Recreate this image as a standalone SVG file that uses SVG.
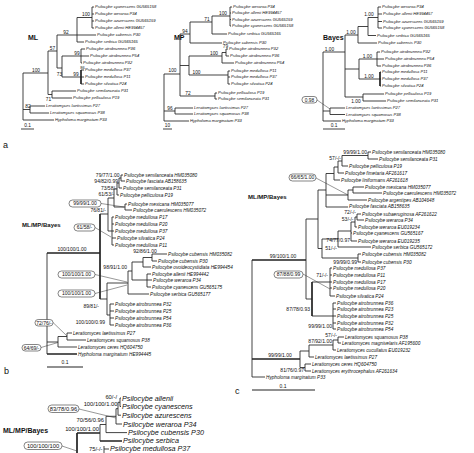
<svg xmlns="http://www.w3.org/2000/svg" width="474" height="453" viewBox="0 0 474 453">
<style>
text{font-family:"Liberation Sans",Arial,sans-serif;fill:#111}
.na{font-size:4.1px;font-style:italic}
.nb{font-size:4.7px;font-style:italic}
.nd{font-size:7.2px;font-style:italic}
.s{font-size:4.8px}
.sb{font-size:5px}
.sd{font-size:5.8px}
.m{text-anchor:middle}
.e{text-anchor:end}
.t{font-weight:bold;font-size:7px}
.tb{font-weight:bold;font-size:6px}
.p{font-size:9px}
.br{fill:none;stroke:#222;stroke-width:0.85}
.bk{fill:none;stroke:#222;stroke-width:1.7}
.bx{fill:#fff;stroke:#333;stroke-width:0.6}
.pt{fill:none;stroke:#333;stroke-width:0.5}
</style>
<rect width="474" height="453" fill="#fff"/>

<g id="connectors">
<!-- ML -->
<path class="br" d="M23,73V120 M23,73H48 M48,51V94.5 M48,51H57 M57,35V68 M57,35H77 M77,17.5V42 M77,17.5H92 M92,7V28 M92,7H94 M92,14H94 M92,21H94 M92,28H94 M77,35H96 M77,42H84 M57,68H62 M62,56V77 M62,56H81 M81,49V63 M81,49H85 M81,56H89 M81,63H82 M62,77H81 M81,70H84 M81,77H84 M81,84H84 M48,94.5H52 M52,91V98 M52,91H76 M52,98H72 M23,109.5H30 M30,106V113 M30,106H45 M30,113H49 M23,120H54 M21,129H34"/>
<path class="bk" d="M81,70V84"/>
<!-- MP -->
<path class="br" d="M164,74V121 M164,74H180 M180,34V96 M180,34H190 M190,22V43 M190,22H212 M212,16V34 M212,16H230 M230,7V26 M230,7H232 M230,13H231 M230,19.5H231 M230,26H231 M212,34H227 M190,43H222 M180,65.5H189 M189,56V75 M189,56H222 M222,52.5V63 M222,52.5H226 M226,49V56 M226,49H228 M226,56H229 M222,63H234 M189,75H228 M228,71V84 M228,71H230 M228,77H230 M228,84H230 M180,96H215 M215,93V99 M215,93H217 M215,99H217 M164,111H175 M175,108V114 M175,108H193 M175,114H193 M164,121H189 M163,129H172"/>
<!-- Bayes -->
<path class="br" d="M323,52V121 M323,52H345 M345,35V97 M345,35H358 M358,26.5V43 M358,26.5H368 M368,17.5V35.5 M368,17.5H378 M378,7V28 M378,7H381 M378,14H382 M378,21.5H382 M378,28H382 M368,35.5H376 M358,43H377 M345,69H359 M359,59V79 M359,59H377 M377,52V66 M377,52H380 M377,59H384 M377,66H381 M359,79H380 M380,72H381 M380,79H381 M380,86H381 M345,97H363 M363,94V101 M363,94H384 M363,101H386 M323,111H330 M330,108V114.5 M330,108H345 M330,114.5H345 M323,121H341 M323,129H345"/>
<path class="bk" d="M380,72V86"/>
<path class="pt" d="M317,100L330,109"/>
<!-- panel b -->
<path class="br" d="M47,253V354 M100,214H108 M108,198V231 M108,198H114 M114,189V207 M114,189H117 M117,183V195 M117,183H119 M119,178V188 M119,178H121 M121,175V181 M121,175H123 M121,181H125 M119,188H122 M117,195H119 M114,207H125 M125,204V210 M125,204H127 M125,210H132 M108,231H112 M112,217V245 M112,217H114 M112,224H114 M112,231H114 M112,238H116 M112,245H114 M100,299H107 M107,283V315 M107,283H128 M128,271V294 M128,271H132 M132,262V280 M132,262H143 M143,257.5V267 M143,257.5H152 M152,254V261 M152,254H167 M152,261H157 M143,267H151 M132,280H147 M147,274V287 M147,274H151 M147,280H152 M147,287H151 M128,294H149 M107,315H110 M110,304V325 M110,304H114 M110,311H114 M110,318H114 M110,325H114 M47,342H58 M58,336.5V347 M58,336.5H67 M67,333V340 M67,333H72 M67,340H86 M58,347H77"/>
<path class="bk" d="M47,253H100 M100,214V299 M47,354H77"/>
<path class="br" style="stroke-width:1.1" d="M47,367H83"/>
<path class="pt" d="M101,203.5L124,207 M95,227.5L111,237 M95,274.5L127,282 M95,293.5L127,285 M53,322.5L67,336 M41,347.5L58,342.5"/>
<!-- panel c -->
<path class="br" d="M252,260V377 M306,219V299 M306,219H318 M318,190V248.5 M318,190H326 M326,173.5V207 M326,173.5H334 M334,167V180 M334,167H338 M338,161V173 M338,161H342 M342,155.5V166 M342,155.5H368 M368,152V159 M368,152H371 M368,159H378 M342,166H348 M338,173H344 M334,180H340 M326,195H348 M348,190V200 M348,190H353 M353,187V193 M353,187H364 M353,193H382 M348,200H367 M326,207H348 M318,248.5H322 M322,239V258 M322,239H338 M338,231V247 M338,231H351 M351,222V241 M351,222H355 M355,217V227 M355,217H357 M357,214V220 M357,214H361 M357,220H364 M355,227H357 M351,233H352 M351,241H357 M338,247H371 M322,258H358 M358,254V262 M358,254H361 M358,262H361 M306,299H312 M312,282H330 M330,268V296 M330,268H332 M330,275H332 M330,282H332 M330,288H332 M330,296H335 M312,316H333 M333,303V329 M333,303H336 M333,309H336 M333,316H336 M333,323H336 M333,329H336 M300,351V367.5 M300,351H309 M309,345V357 M309,345H333 M333,340V350 M333,340H338 M338,337V343 M338,337H344 M338,343H341 M333,350H336 M309,357H314 M300,367.5H305 M305,364V371 M305,364H311 M305,371H311 M252,377H265"/>
<path class="bk" d="M252,260H306 M312,282V316 M252,359H300"/>
<path class="br" style="stroke-width:1.1" d="M252,390H315"/>
<path class="pt" d="M316,178L348,195 M303,274L330,289"/>
<!-- panel d -->
<path class="br" d="M120,398V406.5 M120,398H121 M120,406.5H121 M118,402.3V415.2 M118,402.3H120 M118,415.2H121 M116,408.7V424 M116,408.7H118 M116,424H122 M106,416.3V432.6 M106,416.3H116 M106,432.6H127 M100,424.5V441 M100,424.5H106 M104,446V456 M104,449H109"/>
<path class="bk" d="M100,441H122 M77,433H100 M77,433V456 M77,456H104"/>
<path class="pt" d="M79,409L116,418 M62,446L77,451"/>
</g>

<g id="panel-labels">
<text class="p" x="3" y="148">a</text>
<text class="p" x="4" y="374">b</text>
<text class="p" x="235" y="394">c</text>
<text class="t" x="28" y="40">ML</text>
<text class="t" x="174" y="40">MP</text>
<text class="t" x="323" y="40">Bayes</text>
<text class="tb" x="22" y="227">ML/MP/Bayes</text>
<text class="tb" x="248" y="199">ML/MP/Bayes</text>
<text class="t" x="3" y="433">ML/MP/Bayes</text>
</g>

<g id="support-values">
<text class="s m" x="36" y="71.5">100</text>
<text class="s m" x="52.5" y="49.5">57</text>
<text class="s m" x="66" y="33.5">92</text>
<text class="s m" x="86" y="16">100</text>
<text class="s m" x="77" y="54.5">99</text>
<text class="s m" x="59.5" y="75.5">73</text>
<text class="s m" x="76" y="75.5">99</text>
<text class="m" style="font-size:4px" x="82.5" y="69.2">86</text>
<text class="s m" x="48.5" y="101">71</text>
<text class="s m" x="28" y="107.5">82</text>
<text class="s m" x="27.5" y="127">0.1</text>
<text class="s m" x="172.5" y="72">100</text>
<text class="s m" x="185" y="32.5">94</text>
<text class="s m" x="207" y="20.5">71</text>
<text class="s m" x="223" y="14.5">100</text>
<text class="s m" x="214" y="54.5">100</text>
<text class="s m" x="225.5" y="48">79</text>
<text class="s m" x="196.5" y="73.5">100</text>
<text class="s m" x="188" y="94.5">72</text>
<text class="s m" x="170" y="109.5">96</text>
<text class="s m" x="167.5" y="127">10</text>
<text class="s m" x="329.5" y="50.5">1.00</text>
<text class="s m" x="351" y="33.5">1.00</text>
<text class="s m" x="369" y="16">1.00</text>
<text class="s m" x="367.5" y="57.5">1.00</text>
<text class="s m" x="369" y="77.5">1.00</text>
<text class="s m" x="356" y="102.5">1.00</text>
<text class="s m" x="334" y="127">0.1</text>
<text class="sb e" x="119.5" y="176.5">79/77/1.00</text>
<text class="sb e" x="118" y="182.5">94/82/0.99</text>
<text class="sb e" x="116.5" y="189.5">73/58/-</text>
<text class="sb e" x="114" y="196">61/53/-</text>
<text class="sb e" x="106" y="212">76/81/-</text>
<text class="sb m" x="72" y="250.5">100/100/1.00</text>
<text class="sb m" x="145" y="253">92/86/1.00</text>
<text class="sb e" x="127" y="269">98/91/1.00</text>
<text class="sb e" x="99" y="308">89/81/-</text>
<text class="sb e" x="105" y="324">100/100/0.99</text>
<text class="sb m" x="65" y="364">0.1</text>
<text class="sb e" x="367" y="153.5">99/99/1.00</text>
<text class="sb e" x="341" y="160">57/-/-</text>
<text class="sb e" x="356" y="214.3">72/-/-</text>
<text class="sb e" x="353.5" y="220.8">53/-/-</text>
<text class="sb e" x="350" y="241.5">74/77/0.97</text>
<text class="sb e" x="337" y="249.5">51/-/-</text>
<text class="sb e" x="357" y="264">99/99/0.99</text>
<text class="sb m" x="283" y="257.5">99/100/1.00</text>
<text class="sb e" x="328" y="277">71/-/-</text>
<text class="sb e" x="310" y="310.5">87/78/0.93</text>
<text class="sb e" x="332" y="327.5">99/99/1.00</text>
<text class="sb e" x="337" y="336.5">57/-/-</text>
<text class="sb e" x="332" y="342.5">87/92/1.00</text>
<text class="sb m" x="280" y="356.5">99/99/1.00</text>
<text class="sb e" x="304" y="372">81/76/0.97</text>
<text class="sb m" x="283" y="387.5">0.1</text>
<text class="sd e" x="117" y="398.5">60/-/</text>
<text class="sd e" x="117.5" y="406.3">100/100/1.00</text>
<text class="sd e" x="104" y="421.5">70/56/0.96</text>
<text class="sd e" x="99" y="431.2">100/100/1.00</text>
<text class="sd e" x="102.5" y="451">75/-/-</text>
</g>

<g id="boxed-values">
<g id="box-a-098"><rect class="bx" x="302" y="96.5" width="15" height="6.5" rx="3"/><text class="s m" x="309.5" y="101.6">0.98</text></g>
<g id="box-b-1"><rect class="bx" x="69" y="200" width="32" height="7" rx="3.5"/><text class="sb m" x="85" y="205.3">99/99/1.00</text></g>
<g id="box-b-2"><rect class="bx" x="74" y="224" width="21" height="7" rx="3.5"/><text class="sb m" x="84.5" y="229.3">61/58/-</text></g>
<g id="box-b-3"><rect class="bx" x="58" y="271" width="37" height="7" rx="3.5"/><text class="sb m" x="76.5" y="276.3">100/100/1.00</text></g>
<g id="box-b-4"><rect class="bx" x="58" y="290" width="37" height="7" rx="3.5"/><text class="sb m" x="76.5" y="295.3">100/100/1.00</text></g>
<g id="box-b-5"><rect class="bx" x="35" y="319.5" width="18" height="6.5" rx="3.2"/><text class="sb m" x="44" y="324.5">72/76/-</text></g>
<g id="box-b-6"><rect class="bx" x="22" y="344.5" width="19" height="6.5" rx="3.2"/><text class="sb m" x="31.5" y="349.5">64/69/-</text></g>
<g id="box-c-1"><rect class="bx" x="289" y="174" width="27" height="7" rx="3.5"/><text class="sb m" x="302.5" y="179.3">66/65/1.00</text></g>
<g id="box-c-2"><rect class="bx" x="274" y="271" width="29" height="7" rx="3.5"/><text class="sb m" x="288.5" y="276.3">87/88/0.99</text></g>
<g id="box-d-1"><rect class="bx" x="48" y="405" width="31" height="7.5" rx="3.7"/><text class="sd m" x="63.5" y="410.8">83/78/0.96</text></g>
<g id="box-d-2"><rect class="bx" x="24" y="442" width="38" height="7.5" rx="3.7"/><text class="sd m" x="43" y="447.8">100/100/100</text></g>
</g>

<g id="ml-leaves" class="na">
<g id="ml1"><text x="95" y="8.4">Psilocybe cyanescens GU565158</text></g>
<g id="ml2"><text x="95" y="15.4">Psilocybe weraroa P34</text></g>
<g id="ml3"><text x="95" y="22.4">Psilocybe azurescens GU565159</text></g>
<g id="ml4"><text x="95" y="29.4">Psilocybe allenii HE994457</text></g>
<g id="ml5"><text x="97" y="36.4">Psilocybe cubensis P30</text></g>
<g id="ml6"><text x="85" y="43.4">Psilocybe serbica GU565165</text></g>
<g id="ml7"><text x="86" y="50.4">Psilocybe atrobrunnea P36</text></g>
<g id="ml8"><text x="90" y="57.4">Psilocybe atrobrunnea P54</text></g>
<g id="ml9"><text x="83" y="64.4">Psilocybe atrobrunnea P32</text></g>
<g id="ml10"><text x="85" y="71.4">Psilocybe medullosa P37</text></g>
<g id="ml11"><text x="85" y="78.4">Psilocybe medullosa P11</text></g>
<g id="ml12"><text x="85" y="85.4">Psilocybe silvatica P24</text></g>
<g id="ml13"><text x="77" y="92.4">Psilocybe semilanceata P31</text></g>
<g id="ml14"><text x="73" y="99.4">Psilocybe pelliculosa P19</text></g>
<g id="ml15"><text x="46" y="107.4">Leratiomyces laetissimus P27</text></g>
<g id="ml16"><text x="50" y="114.4">Leratiomyces squamosus P38</text></g>
<g id="ml17"><text x="55" y="121.4">Hypholoma marginatum P33</text></g>
</g>

<g id="mp-leaves" class="na">
<g id="mp1"><text x="233" y="8.4">Psilocybe weraroa P34</text></g>
<g id="mp2"><text x="232" y="14.4">Psilocybe allenii HE994457</text></g>
<g id="mp3"><text x="232" y="20.9">Psilocybe azurescens GU565159</text></g>
<g id="mp4"><text x="232" y="27.4">Psilocybe cyanescens GU565158</text></g>
<g id="mp5"><text x="228" y="35.4">Psilocybe serbica GU565165</text></g>
<g id="mp6"><text x="223" y="44.4">Psilocybe cubensis P30</text></g>
<g id="mp7"><text x="229" y="50.4">Psilocybe atrobrunnea P32</text></g>
<g id="mp8"><text x="230" y="57.4">Psilocybe atrobrunnea P36</text></g>
<g id="mp9"><text x="235" y="64.4">Psilocybe atrobrunnea P54</text></g>
<g id="mp10"><text x="231" y="72.4">Psilocybe medullosa P11</text></g>
<g id="mp11"><text x="231" y="78.4">Psilocybe medullosa P37</text></g>
<g id="mp12"><text x="231" y="85.4">Psilocybe silvatica P24</text></g>
<g id="mp13"><text x="218" y="94.4">Psilocybe pelliculosa P19</text></g>
<g id="mp14"><text x="218" y="100.4">Psilocybe semilanceata P31</text></g>
<g id="mp15"><text x="194" y="109.4">Leratiomyces laetissimus P27</text></g>
<g id="mp16"><text x="194" y="115.4">Leratiomyces squamosus P38</text></g>
<g id="mp17"><text x="190" y="122.4">Hypholoma marginatum P33</text></g>
</g>

<g id="bayes-leaves" class="na">
<g id="by1"><text x="382" y="8.4">Psilocybe weraroa P34</text></g>
<g id="by2"><text x="383" y="15.4">Psilocybe allenii HE994457</text></g>
<g id="by3"><text x="383" y="22.9">Psilocybe azurescens GU565159</text></g>
<g id="by4"><text x="383" y="29.4">Psilocybe cyanescens GU565158</text></g>
<g id="by5"><text x="377" y="36.9">Psilocybe serbica GU565165</text></g>
<g id="by6"><text x="378" y="44.4">Psilocybe cubensis P30</text></g>
<g id="by7"><text x="381" y="53.4">Psilocybe atrobrunnea P32</text></g>
<g id="by8"><text x="385" y="60.4">Psilocybe atrobrunnea P54</text></g>
<g id="by9"><text x="382" y="67.4">Psilocybe atrobrunnea P36</text></g>
<g id="by10"><text x="382" y="73.4">Psilocybe medullosa P11</text></g>
<g id="by11"><text x="382" y="80.4">Psilocybe medullosa P37</text></g>
<g id="by12"><text x="382" y="87.4">Psilocybe silvatica P24</text></g>
<g id="by13"><text x="385" y="95.4">Psilocybe pelliculosa P19</text></g>
<g id="by14"><text x="387" y="102.4">Psilocybe semilanceata P31</text></g>
<g id="by15"><text x="346" y="109.4">Leratiomyces laetissimus P27</text></g>
<g id="by16"><text x="346" y="115.9">Leratiomyces squamosus P38</text></g>
<g id="by17"><text x="342" y="122.4">Hypholoma marginatum P33</text></g>
</g>

<g id="b-leaves" class="nb">
<g id="b1"><text x="124" y="176.6">Psilocybe semilanceata HM035080</text></g>
<g id="b2"><text x="126" y="182.6">Psilocybe fasciata AB158635</text></g>
<g id="b3"><text x="123" y="189.6">Psilocybe semilanceata P31</text></g>
<g id="b4"><text x="120" y="196.6">Psilocybe pelliculosa P19</text></g>
<g id="b5"><text x="128" y="205.6">Psilocybe mexicana HM035077</text></g>
<g id="b6"><text x="133" y="211.6">Psilocybe caerulescens HM035072</text></g>
<g id="b7"><text x="115" y="218.6">Psilocybe medullosa P17</text></g>
<g id="b8"><text x="115" y="225.6">Psilocybe medullosa P20</text></g>
<g id="b9"><text x="115" y="232.6">Psilocybe medullosa P37</text></g>
<g id="b10"><text x="117" y="239.6">Psilocybe silvatica P24</text></g>
<g id="b11"><text x="115" y="246.6">Psilocybe medullosa P11</text></g>
<g id="b12"><text x="168" y="255.6">Psilocybe cubensis HM035082</text></g>
<g id="b13"><text x="158" y="262.6">Psilocybe cubensis P30</text></g>
<g id="b14"><text x="152" y="268.6">Psilocybe ovoideocystidiata HE994454</text></g>
<g id="b15"><text x="152" y="275.6">Psilocybe allenii HE994442</text></g>
<g id="b16"><text x="153" y="281.6">Psilocybe weraroa P34</text></g>
<g id="b17"><text x="152" y="288.6">Psilocybe cyanescens GU565175</text></g>
<g id="b18"><text x="150" y="295.6">Psilocybe serbica GU565177</text></g>
<g id="b19"><text x="115" y="305.6">Psilocybe atrobrunnea P32</text></g>
<g id="b20"><text x="115" y="312.6">Psilocybe atrobrunnea P25</text></g>
<g id="b21"><text x="115" y="319.6">Psilocybe atrobrunnea P54</text></g>
<g id="b22"><text x="115" y="326.6">Psilocybe atrobrunnea P36</text></g>
<g id="b23"><text x="73" y="334.6">Leratiomyces laetissimus P27</text></g>
<g id="b24"><text x="87" y="341.6">Leratiomyces squamosus P38</text></g>
<g id="b25"><text x="78" y="348.6">Leratiomyces ceres HQ604750</text></g>
<g id="b26"><text x="78" y="355.6">Hypholoma marginatum HE994445</text></g>
</g>

<g id="c-leaves" class="nb">
<g id="c1"><text x="372" y="153.6">Psilocybe semilanceata HM035080</text></g>
<g id="c2"><text x="379" y="160.6">Psilocybe semilanceata P31</text></g>
<g id="c3"><text x="349" y="167.6">Psilocybe pelliculosa P19</text></g>
<g id="c4"><text x="345" y="174.6">Psilocybe fimetaria AF261617</text></g>
<g id="c5"><text x="341" y="181.6">Psilocybe liniformans AF261618</text></g>
<g id="c6"><text x="365" y="188.6">Psilocybe mexicana HM035077</text></g>
<g id="c7"><text x="383" y="194.6">Psilocybe caerulescens HM035072</text></g>
<g id="c8"><text x="368" y="201.6">Psilocybe argentipes AB104648</text></g>
<g id="c9"><text x="349" y="208.4">Psilocybe fasciata AB158635</text></g>
<g id="c10"><text x="362" y="215.6">Psilocybe subaeruginosa AF261622</text></g>
<g id="c11"><text x="365" y="221.6">Psilocybe weraroa P34</text></g>
<g id="c12"><text x="358" y="228.6">Psilocybe weraroa EU019234</text></g>
<g id="c13"><text x="353" y="234.6">Psilocybe cyanescens GU565167</text></g>
<g id="c14"><text x="358" y="242.6">Psilocybe weraroa EU019235</text></g>
<g id="c15"><text x="372" y="248.6">Psilocybe serbica GU565172</text></g>
<g id="c16"><text x="362" y="255.6">Psilocybe cubensis HM035082</text></g>
<g id="c17"><text x="362" y="263.6">Psilocybe cubensis P30</text></g>
<g id="c18"><text x="333" y="269.6">Psilocybe medullosa P37</text></g>
<g id="c19"><text x="333" y="276.6">Psilocybe medullosa P11</text></g>
<g id="c20"><text x="333" y="283.6">Psilocybe medullosa P17</text></g>
<g id="c21"><text x="333" y="289.6">Psilocybe medullosa P20</text></g>
<g id="c22"><text x="336" y="297.6">Psilocybe silvatica P24</text></g>
<g id="c23"><text x="337" y="304.6">Psilocybe atrobrunnea P36</text></g>
<g id="c24"><text x="337" y="310.6">Psilocybe atrobrunnea P23</text></g>
<g id="c25"><text x="337" y="317.6">Psilocybe atrobrunnea P25</text></g>
<g id="c26"><text x="337" y="324.6">Psilocybe atrobrunnea P32</text></g>
<g id="c27"><text x="337" y="330.6">Psilocybe atrobrunnea P54</text></g>
<g id="c28"><text x="345" y="338.6">Leratiomyces squamosus P38</text></g>
<g id="c29"><text x="342" y="344.6">Leratiomyces magnivelaris AF195600</text></g>
<g id="c30"><text x="337" y="351.6">Leratiomyces cucullatus EU019232</text></g>
<g id="c31"><text x="315" y="358.6">Leratiomyces laetissimus P27</text></g>
<g id="c32"><text x="312" y="365.6">Leratiomyces ceres HQ604750</text></g>
<g id="c33"><text x="312" y="372.6">Leratiomyces erythrocephalus AF261634</text></g>
<g id="c34"><text x="266" y="378.6">Hypholoma marginatum P33</text></g>
</g>

<g id="d-leaves" class="nd">
<g id="d1"><text x="122" y="400.6">Psilocybe allenii</text></g>
<g id="d2"><text x="122" y="409.1">Psilocybe cyanescens</text></g>
<g id="d3"><text x="122" y="417.8">Psilocybe azurescens</text></g>
<g id="d4"><text x="123" y="426.6">Psilocybe weraroa P34</text></g>
<g id="d5"><text x="128" y="435.2">Psilocybe cubensis P30</text></g>
<g id="d6"><text x="123" y="443.4">Psilocybe serbica</text></g>
<g id="d7"><text x="110" y="451.4">Psilocybe medullosa P37</text></g>
</g>
</svg>
